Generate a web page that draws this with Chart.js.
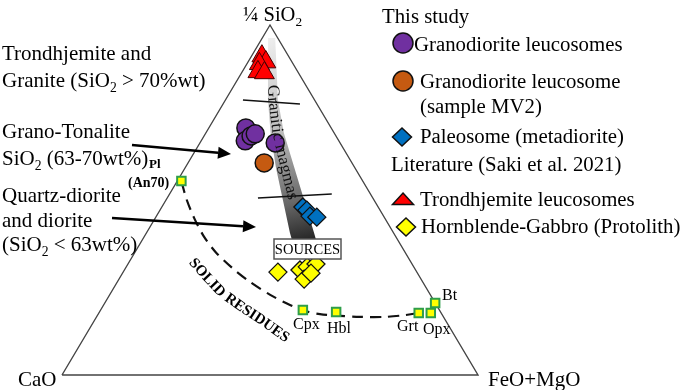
<!DOCTYPE html>
<html lang="en">
<head>
<meta charset="UTF-8">
<title>1/4 SiO2 - CaO - FeO+MgO ternary</title>
<script src="https://cdn.jsdelivr.net/npm/chart.js"></script>
<style>
  body { margin: 0; background: #fff; }
  #wrap { width: 685px; height: 390px; }
</style>
</head>
<body>
<div id="wrap"><canvas id="tern" width="685" height="390"></canvas></div>
<script>
// compositions as [1/4 SiO2, CaO, FeO+MgO] in %
const frame = [[0, 100, 0], [0, 0, 100], [100, 0, 0], [0, 100, 0]];
const trondhjemite = [[91.1, 6.4, 2.5], [89.4, 6.3, 4.3], [88.9, 8.1, 3.0], [86.6, 9.6, 3.8], [86.3, 8.2, 5.5]];
const granodiorite = [[70.6, 20.5, 8.9], [66.9, 22.5, 10.6], [68.3, 20.4, 11.3], [68.9, 19.1, 12.0], [66.3, 15.6, 18.1]];
const sampleMV2 = [[60.6, 21.1, 18.3]];
const paleosome = [[48.0, 18.1, 33.9], [47.1, 17.6, 35.3], [45.4, 17.7, 36.9], [45.1, 16.2, 38.7]];
const gabbro = [[29.4, 33.4, 37.2], [30.0, 27.8, 42.2], [30.9, 25.6, 43.5], [31.7, 23.1, 45.2], [27.4, 28.1, 44.5], [29.1, 25.6, 45.3]];
const minerals = ['Pl', 'Cpx', 'Hbl', 'Grt', 'Opx', 'Bt'];
const mineralComp = [[55.4, 43.6, 1.0], [18.6, 32.8, 48.6], [18.0, 25.1, 56.9], [17.7, 5.4, 76.9], [17.7, 2.5, 79.8], [20.6, 0.0, 79.4]];
const residues = [[55.1, 43.7, 1.2], [50.0, 45.0, 5.0], [44.9, 45.8, 9.3], [39.7, 46.1, 14.2], [35.1, 45.5, 19.4],
  [30.6, 43.8, 25.6], [26.6, 41.5, 31.9], [22.9, 38.5, 38.6], [20.0, 35.2, 44.8], [18.3, 32.4, 49.3],
  [17.4, 29.3, 53.3], [16.9, 24.7, 58.4], [16.6, 20.1, 63.3], [16.6, 14.1, 69.3], [17.1, 9.0, 73.9], [17.7, 5.6, 76.7]];
const limit70 = [[78.6, 17.2, 4.2], [77.4, 4.1, 18.5]];
const limit63 = [[50.6, 27.6, 21.8], [51.7, 9.3, 39.0]];
const bandLeft = [[96.3, 2.3, 1.4], [78.6, 11.2, 10.2], [69.1, 15.3, 15.6], [59.4, 18.9, 21.7], [50.0, 21.9, 28.1], [40.6, 24.9, 34.5], [38.3, 25.5, 36.2]];
const bandRight = [[96.3, 0.6, 3.1], [78.6, 8.8, 12.6], [69.1, 12.1, 18.8], [59.4, 14.5, 26.1], [50.0, 16.8, 33.2], [40.6, 19.1, 40.3], [38.3, 19.7, 42.0]];

const SERIF = '"Liberation Serif", "Times New Roman", serif';

function tern(p) {
  const t = p[0] + p[1] + p[2];
  return { x: (p[2] + p[0] / 2) / t, y: p[0] / t };
}

function bandFill(c) {
  const ch = c.chart;
  if (!ch.chartArea) return '#999';
  const a = tern(bandLeft[0]), b = tern(bandRight[bandRight.length - 1]);
  const g = ch.ctx.createLinearGradient(ch.scales.x.getPixelForValue(a.x), ch.scales.y.getPixelForValue(a.y),
    ch.scales.x.getPixelForValue(b.x), ch.scales.y.getPixelForValue(b.y));
  g.addColorStop(0, '#eeeeee');
  g.addColorStop(0.45, '#bdbdbd');
  g.addColorStop(0.8, '#666');
  g.addColorStop(1, '#222');
  return g;
}

function rich(ctx, x, y, parts, size) {
  let cx = x;
  for (const [t, sub] of parts) {
    ctx.font = (sub ? size * 0.65 : size) + 'px ' + SERIF;
    ctx.fillText(t, cx, sub ? y + size * 0.22 : y);
    cx += ctx.measureText(t).width;
  }
}

function textOnPath(ctx, text, pts, start) {
  const seg = [];
  let total = 0;
  for (let i = 1; i < pts.length; i++) {
    const dx = pts[i][0] - pts[i - 1][0], dy = pts[i][1] - pts[i - 1][1];
    const l = Math.hypot(dx, dy);
    seg.push({ x: pts[i - 1][0], y: pts[i - 1][1], dx, dy, l, s: total });
    total += l;
  }
  let s = start;
  for (const chr of text) {
    const w = ctx.measureText(chr).width;
    const m = s + w / 2;
    let g = seg[seg.length - 1];
    for (const q of seg) if (m <= q.s + q.l) { g = q; break; }
    const t = (m - g.s) / g.l;
    ctx.save();
    ctx.translate(g.x + g.dx * t, g.y + g.dy * t);
    ctx.rotate(Math.atan2(g.dy, g.dx));
    ctx.fillText(chr, 0, 0);
    ctx.restore();
    s += w;
  }
}

function arrow(ctx, x1, y1, x2, y2) {
  const a = Math.atan2(y2 - y1, x2 - x1), L = 13, W = 6;
  const bx = x2 - Math.cos(a) * L, by = y2 - Math.sin(a) * L;
  ctx.beginPath();
  ctx.moveTo(x1, y1);
  ctx.lineTo(bx, by);
  ctx.lineWidth = 2.6;
  ctx.strokeStyle = '#000';
  ctx.stroke();
  ctx.beginPath();
  ctx.moveTo(x2, y2);
  ctx.lineTo(bx - Math.sin(a) * W, by + Math.cos(a) * W);
  ctx.lineTo(bx + Math.sin(a) * W, by - Math.cos(a) * W);
  ctx.closePath();
  ctx.fillStyle = '#000';
  ctx.fill();
}

function marker(ctx, kind, x, y, fill) {
  ctx.beginPath();
  if (kind === 'circle') ctx.arc(x, y, 10, 0, Math.PI * 2);
  if (kind === 'diamond') { ctx.moveTo(x, y - 9); ctx.lineTo(x + 9.5, y); ctx.lineTo(x, y + 9); ctx.lineTo(x - 9.5, y); ctx.closePath(); }
  if (kind === 'triangle') { ctx.moveTo(x, y - 6); ctx.lineTo(x + 10.5, y + 5.5); ctx.lineTo(x - 10.5, y + 5.5); ctx.closePath(); }
  ctx.fillStyle = fill;
  ctx.fill();
  ctx.lineWidth = 1.5;
  ctx.strokeStyle = '#111';
  ctx.stroke();
}

const deco = {
  id: 'deco',
  afterDatasetsDraw(chart) {
    const ctx = chart.ctx;
    ctx.save();
    ctx.fillStyle = '#000';
    ctx.textBaseline = 'alphabetic';
    ctx.textAlign = 'left';

    // corners
    rich(ctx, 243, 21, [['\u00BC SiO', false], ['2', true]], 20.5);
    rich(ctx, 18, 386, [['CaO', false]], 21);
    rich(ctx, 488, 386, [['FeO+MgO', false]], 21);

    // rock classes
    rich(ctx, 2, 60, [['Trondhjemite and', false]], 21);
    rich(ctx, 2, 87, [['Granite (SiO', false], ['2', true], [' > 70%wt)', false]], 21);
    rich(ctx, 2, 138, [['Grano-Tonalite', false]], 21);
    rich(ctx, 2, 165, [['SiO', false], ['2', true], [' (63-70wt%)', false]], 21);
    rich(ctx, 2, 202, [['Quartz-diorite', false]], 21);
    rich(ctx, 2, 227, [['and diorite', false]], 21);
    rich(ctx, 2, 251, [['(SiO', false], ['2', true], [' < 63wt%)', false]], 21);
    arrow(ctx, 132, 145, 231, 154);
    arrow(ctx, 112, 218, 256, 227);

    // mineral labels
    ctx.font = 'bold 13px ' + SERIF;
    ctx.fillText('Pl', 149, 168);
    ctx.font = 'bold 14px ' + SERIF;
    ctx.fillText('(An70)', 128, 187);
    ctx.font = '16px ' + SERIF;
    ctx.fillText(minerals[1], 293, 329);
    ctx.fillText(minerals[2], 327, 333);
    ctx.fillText(minerals[3], 397, 331);
    ctx.fillText(minerals[4], 423, 334);
    ctx.fillText(minerals[5], 442, 300);

    // sources box
    ctx.fillStyle = '#fff';
    ctx.fillRect(274, 239, 67, 20);
    ctx.strokeStyle = '#555';
    ctx.lineWidth = 1.5;
    ctx.strokeRect(274, 239, 67, 20);
    ctx.fillStyle = '#000';
    ctx.textAlign = 'center';
    ctx.font = '14.5px ' + SERIF;
    ctx.fillText('SOURCES', 307.5, 254);

    // curved labels
    ctx.textBaseline = 'middle';
    ctx.font = '17px ' + SERIF;
    ctx.fillStyle = '#111';
    textOnPath(ctx, 'Granitic magmas', [[272, 38], [273, 100], [277, 133], [285, 167], [293, 200], [302, 233]], 47);
    ctx.fillStyle = '#000';
    ctx.font = 'bold 15px ' + SERIF;
    textOnPath(ctx, 'SOLID RESIDUES', [[190, 259], [205, 276], [222, 294], [242, 308], [262, 321], [280, 334], [298, 346]], 2);

    // legend
    ctx.textAlign = 'left';
    ctx.textBaseline = 'alphabetic';
    ctx.font = '20.8px ' + SERIF;
    ctx.fillText('This study', 382, 23);
    marker(ctx, 'circle', 403, 43, '#7030a0');
    ctx.fillStyle = '#000';
    ctx.fillText('Granodiorite leucosomes', 414, 51);
    marker(ctx, 'circle', 403, 81, '#c55a11');
    ctx.fillStyle = '#000';
    ctx.fillText('Granodiorite leucosome', 420, 88);
    ctx.fillText('(sample MV2)', 420, 113);
    marker(ctx, 'diamond', 402, 137, '#0070c0');
    ctx.fillStyle = '#000';
    ctx.fillText('Paleosome (metadiorite)', 420, 143);
    ctx.fillText('Literature (Saki et al. 2021)', 391, 171);
    marker(ctx, 'triangle', 403, 199, '#ff0000');
    ctx.fillStyle = '#000';
    ctx.fillText('Trondhjemite leucosomes', 420, 206);
    marker(ctx, 'diamond', 406, 227, '#ffff00');
    ctx.fillStyle = '#000';
    ctx.fillText('Hornblende-Gabbro (Protolith)', 421, 233);
    ctx.restore();
  }
};

new Chart(document.getElementById('tern'), {
  type: 'scatter',
  data: {
    datasets: [
      { data: frame.map(tern), showLine: true, borderColor: '#444', borderWidth: 1.4, pointRadius: 0, order: 10 },
      { data: bandLeft.concat(bandRight.slice().reverse()).map(tern), showLine: true, fill: 'shape',
        backgroundColor: bandFill, borderWidth: 0, borderColor: 'rgba(0,0,0,0)', pointRadius: 0, order: 9 },
      { data: limit70.map(tern), showLine: true, borderColor: '#111', borderWidth: 1.5, pointRadius: 0, order: 8 },
      { data: limit63.map(tern), showLine: true, borderColor: '#111', borderWidth: 1.5, pointRadius: 0, order: 8 },
      { data: residues.map(tern), showLine: true, tension: 0.3, borderColor: '#111', borderWidth: 2.2,
        borderDash: [11, 7], pointRadius: 0, order: 7 },
      { label: 'Minerals', data: mineralComp.map(tern), pointStyle: 'rect', pointRadius: 6,
        pointBackgroundColor: '#ffff00', pointBorderColor: '#2e9e4a', pointBorderWidth: 2, order: 6 },
      { label: 'Hornblende-Gabbro (Protolith)', data: gabbro.map(tern), pointStyle: 'rectRot', pointRadius: 9,
        pointBackgroundColor: '#ffff00', pointBorderColor: '#111', pointBorderWidth: 1.3, order: 5 },
      { label: 'Paleosome (metadiorite)', data: paleosome.map(tern), pointStyle: 'rectRot', pointRadius: 9,
        pointBackgroundColor: '#0070c0', pointBorderColor: '#111', pointBorderWidth: 1.3, order: 4 },
      { label: 'Granodiorite leucosome (sample MV2)', data: sampleMV2.map(tern), pointStyle: 'circle', pointRadius: 9,
        pointBackgroundColor: '#c55a11', pointBorderColor: '#111', pointBorderWidth: 1.5, order: 3 },
      { label: 'Granodiorite leucosomes', data: granodiorite.map(tern), pointStyle: 'circle', pointRadius: 9,
        pointBackgroundColor: '#7030a0', pointBorderColor: '#111', pointBorderWidth: 1.5, order: 2 },
      { label: 'Trondhjemite leucosomes', data: trondhjemite.map(tern), pointStyle: 'triangle', pointRadius: 11.5,
        pointBackgroundColor: '#ff0000', pointBorderColor: '#400', pointBorderWidth: 1, order: 1 }
    ]
  },
  options: {
    responsive: false,
    animation: false,
    events: [],
    layout: { padding: 0, autoPadding: false },
    plugins: { legend: { display: false }, tooltip: { enabled: false } },
    scales: {
      x: { type: 'linear', display: false, min: -62 / 416, max: 623 / 416 },
      y: { type: 'linear', display: false, min: -15 / 350, max: 375 / 350 }
    }
  },
  plugins: [deco]
});
</script>
</body>
</html>
